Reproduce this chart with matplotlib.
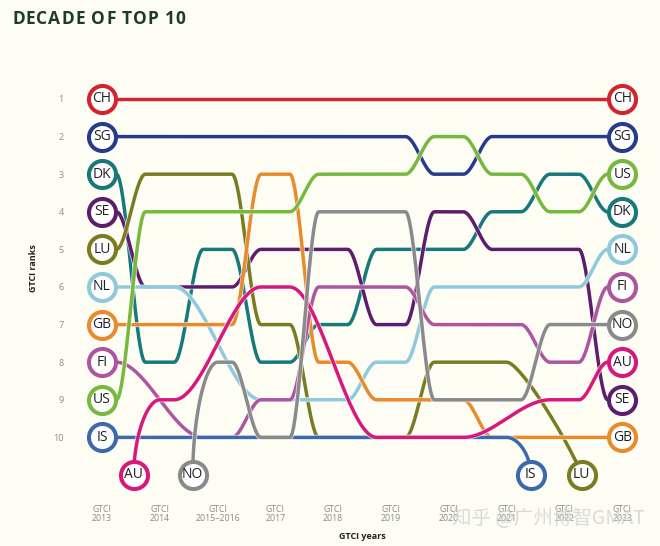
import numpy as np
import matplotlib.pyplot as plt
import matplotlib.patheffects as pe

# GTCI 排名（每年一列），None = 该列没有停在某个名次上
years = ['2013', '2014', '2015–2016', '2017', '2018', '2019', '2020', '2021', '2022', '2023']
codes = ['CH', 'SG', 'DK', 'SE', 'LU', 'NL', 'GB', 'FI', 'US', 'IS', 'AU', 'NO']

ch = [1, 1, 1, 1, 1, 1, 1, 1, 1, 1]
sg = [2, 2, 2, 2, 2, 2, 3, 2, 2, 2]
dk = [3, 8, 5, 8, 7, 5, 5, 4, 3, 4]
se = [4, 6, 6, 5, 5, 7, 4, 5, 5, 9]
lu = [5, 3, 3, 7, 10, 10, 8, 8, None, None]
nl = [6, 6, None, 9, 9, 8, 6, 6, 6, 5]
gb = [7, 7, 7, 3, 8, 9, 9, 10, 10, 10]
fi = [8, None, 10, 9, 6, 6, 7, 7, 8, 6]
us = [9, 4, 4, 4, 3, 3, 2, 3, 4, 3]
is_ = [10, 10, 10, 10, 10, 10, 10, 10, None, None]
au = [None, 9, None, 6, None, 10, 10, None, 9, 8]
no = [None, None, 8, 10, 4, 4, 9, 9, 7, 7]

ranks = [ch, sg, dk, se, lu, nl, gb, fi, us, is_, au, no]

colors = {'CH': '#d3232c', 'SG': '#283a8c', 'DK': '#17797a', 'SE': '#5b1d6c',
          'LU': '#7b7b22', 'NL': '#8fc9dc', 'GB': '#e98a2b', 'FI': '#ad559d',
          'US': '#77b83d', 'IS': '#3c69ae', 'AU': '#d8197b', 'NO': '#8a8a8a'}
# 进出前十的小圆圈离所在列的距离（列单位）, 以及出口曲线的弯曲程度
circle_shift = {'AU': -0.45, 'NO': -0.43, 'IS': 0.42, 'LU': 1.3}
bend = {'AU': 0.5, 'NO': 0.5, 'IS': 0.5, 'LU': 0.2}

OUT = 11
P = 0.25  # 每列水平段的半宽


def smooth(x0, y0, x1, y1, n=40):
    t = np.linspace(0, 1, n)
    s = t * t * (3 - 2 * t)
    return x0 + (x1 - x0) * t, y0 + (y1 - y0) * s


def bez(p0, p1, p2, p3, n=40):
    t = np.linspace(0, 1, n)[:, None]
    p0, p1, p2, p3 = map(np.array, (p0, p1, p2, p3))
    pts = (1 - t) ** 3 * p0 + 3 * (1 - t) ** 2 * t * p1 + 3 * (1 - t) * t ** 2 * p2 + t ** 3 * p3
    return pts[:, 0], pts[:, 1]


def build(code, vals):
    idx = [i for i, v in enumerate(vals) if v is not None]
    first, last = idx[0], idx[-1]
    xs, ys = [], []
    circles = []
    if first > 0:
        c = bend[code]
        xc = first + circle_shift[code]
        r = vals[first]
        bx, by = bez((xc, OUT), (xc, OUT - c * (OUT - r)), (first - c * (first - xc), r), (first, r))
        xs.append(bx); ys.append(by)
        circles.append((xc, OUT))
    for k, i in enumerate(idx):
        r = vals[i]
        xa = i - P if k > 0 else i
        xb = i + P if k < len(idx) - 1 else i
        xs.append(np.array([xa, xb])); ys.append(np.array([r, r]))
        if k < len(idx) - 1:
            j = idx[k + 1]
            tx, ty = smooth(i + P, r, j - P, vals[j])
            xs.append(tx); ys.append(ty)
    if last < len(vals) - 1:
        c = bend[code]
        xc = last + circle_shift[code]
        r = vals[last]
        bx, by = bez((last, r), (last + c * (xc - last), r), (xc - 0.1 * (xc - last) * (c < 0.5), OUT - 0.5 * (OUT - r) * (1 if c >= 0.5 else 0.4)), (xc, OUT))
        xs.append(bx); ys.append(by)
        circles.append((xc, OUT))
    if first == 0:
        circles.append((0, vals[0]))
    if last == len(vals) - 1:
        circles.append((last, vals[last]))
    return np.concatenate(xs), np.concatenate(ys), circles


bg = '#fdfdf3'
fig = plt.figure(figsize=(6.6, 5.46), dpi=100, facecolor=bg)
ax = fig.add_axes([75 / 660, 1 - 495 / 546, 575 / 660, 435 / 546])
ax.set_facecolor(bg)
ax.set_xlim(-0.467, 9.481)
ax.set_ylim(11.532, -0.037)

for code, vals in zip(codes, ranks):
    x, y, circ = build(code, vals)
    col = colors[code]
    ax.plot(x, y, color=col, lw=2.5, solid_capstyle='round', zorder=2,
            path_effects=[pe.Stroke(linewidth=3.7, foreground='white', alpha=0.7), pe.Normal()])
    for cx, cy in circ:
        ax.scatter([cx], [cy], s=380, facecolor='white', edgecolor=col, linewidths=2.9, zorder=5)
        ax.text(cx, cy, code, ha='center', va='center', fontsize=10, family='Open Sans',
                color='#222222', zorder=6)

for s in ax.spines.values():
    s.set_visible(False)
ax.tick_params(length=0)
ax.set_yticks(range(1, 11))
ax.set_yticklabels([str(i) for i in range(1, 11)], fontsize=6.5, color='#8a8a8a', family='Open Sans')
ax.tick_params(axis='y', pad=8)
ax.set_xticks(range(len(years)))
ax.set_xticklabels(['GTCI\n' + y for y in years], fontsize=6.3, color='#8a8a8a', family='Open Sans',
                   linespacing=1.1)
ax.tick_params(axis='x', pad=7)
ax.set_xlabel('GTCI years', fontsize=6.5, fontweight='bold', family='Open Sans', color='#222222')
ax.xaxis.set_label_coords((362 - 75) / 575, (495 - 532) / 435)
ax.set_ylabel('GTCI ranks', fontsize=6.5, fontweight='bold', family='Open Sans', color='#222222')
ax.yaxis.set_label_coords((38 - 75) / 575, (495 - 268) / 435)

# 标题：逐字放置，加一点字距
title = 'DECADE OF TOP 10'
tkw = dict(fontsize=12.5, fontweight='bold', family='Open Sans', color='#1d3b2a', va='center', ha='left')
renderer = fig.canvas.get_renderer()
probe = fig.text(0, 0, '|', **tkw)
w_bar = probe.get_window_extent(renderer).width
probe.remove()
track = 1.0
for k, chr_ in enumerate(title):
    if chr_ == ' ':
        continue
    probe = fig.text(0, 0, title[:k] + '|', **tkw)
    xk = probe.get_window_extent(renderer).width - w_bar if k > 0 else 0
    probe.remove()
    fig.text((12 + xk + k * track) / 660, 1 - 19 / 546, chr_, **tkw)

fig.text(452 / 660, 1 - 518 / 546, '知乎 @广州博智GMAT', fontsize=14,
         family=['Noto Sans CJK SC', 'DejaVu Sans'], color='#d4d4d4', alpha=0.85,
         va='center', ha='left', zorder=10)

fig.savefig('out.png', dpi=100, facecolor=bg)
